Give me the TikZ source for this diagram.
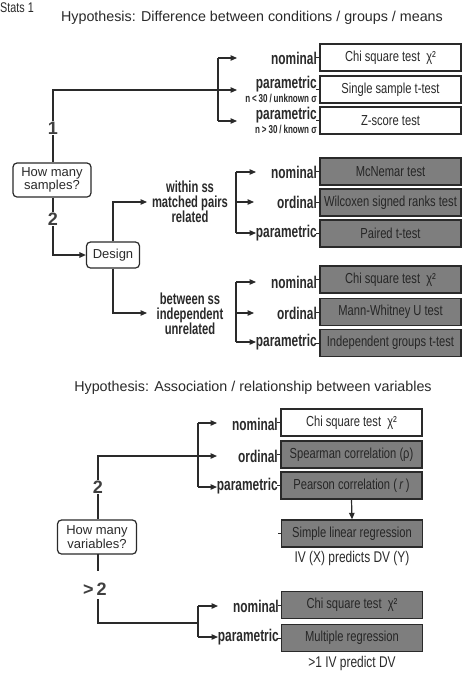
\documentclass[tikz,border=0pt]{standalone}
\usepackage{fontspec}
\setmainfont{Liberation Sans}
\newfontfamily\nb[FakeStretch=0.7]{Liberation Sans}
\newfontfamily\nr[FakeStretch=0.77]{Liberation Sans}
\usetikzlibrary{arrows.meta}
\definecolor{ink}{HTML}{2A2A2A}
\definecolor{boxgray}{HTML}{7E7E7E}
\begin{document}
\begin{tikzpicture}[x=1pt,y=-1pt,
  lab/.style={font=\nb\bfseries\fontsize{17}{14}\selectfont,text=ink,inner sep=0pt,anchor=east},
  sublab/.style={font=\nb\bfseries\fontsize{11.5}{12}\selectfont,text=ink,inner sep=0pt,anchor=east},
  grp/.style={font=\nb\bfseries\fontsize{16}{14.5}\selectfont,text=ink,inner sep=0pt,align=center},
  tbox/.style={draw=ink,line width=1.3pt,minimum width=141pt,minimum height=27pt,inner sep=0pt,
    font=\nr\fontsize{14.5}{16}\selectfont,text=ink,fill=white},
  gbox/.style={tbox,fill=boxgray,text=black!85},
  qbox/.style={draw=ink,line width=1.2pt,rounded corners=4pt,inner sep=0pt,align=center,
    font=\fontsize{13}{13.5}\selectfont,text=ink,fill=white},
  num/.style={font=\bfseries\fontsize{18}{18}\selectfont,text=ink!90,inner sep=1pt},
  title/.style={font=\fontsize{14.3}{16}\selectfont,text=ink},
  note/.style={font=\nr\fontsize{15.5}{16}\selectfont,text=ink},
  conn/.style={draw=ink,line width=1.2pt},
  arr/.style={conn,-{Triangle[length=6.5pt,width=5.5pt]}},
  tick/.style={draw=ink,line width=0.8pt}]
\useasboundingbox (0,0) rectangle (474,678);
\fill[white] (0,0) rectangle (474,678);

\node[anchor=west,inner sep=0pt,font=\nr\fontsize{14}{14}\selectfont,text=ink] (stats) at (0,8) {Stats 1};
\node[title] (title1) at (252,18) {Hypothesis: Difference between conditions / groups / means};

% ---------- top: one sample ----------
\node[tbox] (t1) at (390.5,57.5) {Chi square test~~χ²};
\node[tbox] (t2) at (390.5,89.5) {Single sample t-test};
\node[tbox] (t3) at (390.5,120.5) {Z-score test};
\node[lab] (l1) at (317,58) {nominal};
\node[lab] (l2) at (317,84) {parametric};
\node[sublab] (l2s) at (317,98) {n\,<\,30\,/\,unknown σ};
\node[lab] (l3) at (317,115) {parametric};
\node[sublab] (l3s) at (317,129) {n\,>\,30\,/\,known σ};
\draw[tick] (t1.west) -- ++(-3,0);
\draw[tick] (t2.west) -- ++(-3,0);
\draw[tick] (t3.west) -- ++(-3,0);

\coordinate (a11) at (237,58);
\coordinate (a12) at (237,90);
\coordinate (a13) at (237,121);
\coordinate (b1top) at (218,58);
\coordinate (b1bot) at (218,121);
\draw[conn] (b1top) -- (b1bot);
\draw[arr] (b1top) -- (a11);
\draw[arr] (b1bot) -- (a13);

\node[num] (one) at (53,128) {1};
\draw[arr] (one.north) |- (a12);

\node[qbox,minimum width=78pt,minimum height=34pt] (q1) at (52,180) {How many\\samples?};
\draw[conn] (one.south) -- (one.south |- q1.north);

\node[num] (two) at (53,219) {2};
\draw[conn] (two.north |- q1.south) -- (two.north);

\node[qbox,minimum width=53pt,minimum height=26pt] (design) at (113,255) {Design};
\draw[arr] (two.south) |- (design.west);

% within
\node[grp] (within) at (190,202) {within ss\\matched pairs\\related};
\coordinate (wa) at (147,202);
\draw[arr] (design.north) |- (wa);

\node[gbox] (g1) at (390.5,171.5) {McNemar test};
\node[gbox] (g2) at (390.5,202.5) {Wilcoxen signed ranks test};
\node[gbox] (g3) at (390.5,233.5) {Paired t-test};
\node[lab] (m1) at (317,172) {nominal};
\node[lab] (m2) at (317,202) {ordinal};
\node[lab] (m3) at (317,233) {parametric};
\draw[tick] (g1.west) -- ++(-3,0);
\draw[tick] (g2.west) -- ++(-3,0);
\draw[tick] (g3.west) -- ++(-3,0);
\coordinate (b2top) at (236,172);
\coordinate (b2mid) at (236,202);
\coordinate (b2bot) at (236,233);
\draw[conn] (b2top) -- (b2bot);
\draw[arr] (b2top) -- ++(20,0);
\draw[arr] (b2mid) -- ++(18,0);
\draw[arr] (b2bot) -- ++(20,0);

% between
\node[grp] (between) at (190,314) {between ss\\independent\\unrelated};
\coordinate (ba) at (147,313);
\draw[arr] (design.south) |- (ba);

\node[gbox] (h1) at (390.5,279.5) {Chi square test~~χ²};
\node[gbox] (h2) at (390.5,312) {Mann-Whitney U test};
\node[gbox] (h3) at (390.5,343) {Independent groups t-test};
\node[lab] (n1) at (317,282) {nominal};
\node[lab] (n2) at (317,313) {ordinal};
\node[lab] (n3) at (317,342) {parametric};
\draw[tick] (h1.west) -- ++(-3,0);
\draw[tick] (h2.west) -- ++(-3,0);
\draw[tick] (h3.west) -- ++(-3,0);
\coordinate (b3top) at (236,282);
\coordinate (b3mid) at (236,313);
\coordinate (b3bot) at (236,342);
\draw[conn] (b3top) -- (b3bot);
\draw[arr] (b3top) -- ++(20,0);
\draw[arr] (b3mid) -- ++(18,0);
\draw[arr] (b3bot) -- ++(20,0);

% ---------- bottom: association ----------
\node[title] (title2) at (253,388) {Hypothesis: Association / relationship between variables};

\node[tbox] (c1) at (351.5,422.5) {Chi square test~~χ²};
\node[gbox] (c2) at (351.5,454.5) {Spearman correlation (ρ)};
\node[gbox] (c3) at (351.5,485.5) {Pearson correlation (\,\textit{r}\,)};
\node[lab] (k1) at (278,424) {nominal};
\node[lab] (k2) at (278,456) {ordinal};
\node[lab] (k3) at (278,486) {parametric};
\draw[tick] (c1.west) -- ++(-3,0);
\draw[tick] (c2.west) -- ++(-3,0);
\draw[tick] (c3.west) -- ++(-3,0);
\coordinate (b4top) at (198,423);
\coordinate (b4bot) at (198,487);
\coordinate (a42) at (217,456);
\draw[conn] (b4top) -- (b4bot);
\draw[arr] (b4top) -- ++(19,0);
\draw[arr] (b4bot) -- ++(19,0);

\node[num] (vtwo) at (98,487) {2};
\draw[arr] (vtwo.north) |- (a42);

\node[qbox,minimum width=79pt,minimum height=34pt] (q2) at (97,537) {How many\\variables?};
\draw[conn] (vtwo.south) -- (vtwo.south |- q2.north);

\node[gbox] (slr) at (352,533.5) {Simple linear regression};
\draw[arr] (c3.south) -- (slr.north);
\draw[tick] (slr.west) -- ++(-3,0);
\node[note] (ivx) at (352,558) {IV (X) predicts DV (Y)};

\node[num] (gt) at (95,589) {>\,2};
\draw[conn] (98,554) -- (98,571);
\coordinate (b5top) at (198,606);
\coordinate (b5bot) at (198,637);
\coordinate (b5mid) at (198,623);
\draw[conn] (98,599) |- (b5mid);
\draw[conn] (b5top) -- (b5bot);
\draw[arr] (b5top) -- ++(20,0);
\draw[arr] (b5bot) -- ++(20,0);

\node[gbox] (d1) at (352,605) {Chi square test~~χ²};
\node[gbox] (d2) at (352,638) {Multiple regression};
\node[lab] (e1) at (279,606) {nominal};
\node[lab] (e2) at (279,637) {parametric};
\draw[tick] (d1.west) -- ++(-3,0);
\draw[tick] (d2.west) -- ++(-3,0);
\node[note] (iv2) at (352,663) {>1 IV predict DV};
\end{tikzpicture}
\end{document}
